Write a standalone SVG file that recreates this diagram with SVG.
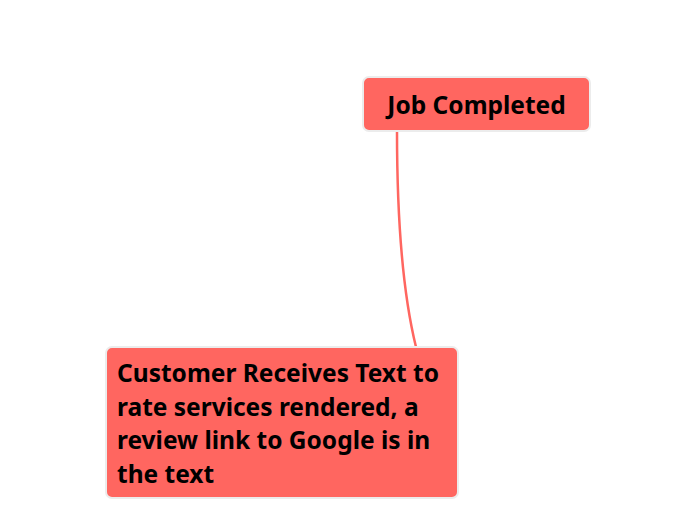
<svg xmlns="http://www.w3.org/2000/svg" width="696" height="520" viewBox="0 0 696 520">
<style>
.node{fill:#ff6660;stroke:#ececec;stroke-width:2}
.lbl{font-family:"Noto Sans","Open Sans","DejaVu Sans",sans-serif;font-weight:bold;font-size:24.5px;fill:#000}
.conn{fill:none;stroke:#ff6660;stroke-width:2.5}
</style>
<rect width="696" height="520" fill="#fff"/>
<g id="connectors">
<path class="conn" d="M397,131 C397,220 402,290 416,347"/>
</g>
<g id="node-job-completed">
<rect class="node" x="363" y="77" width="227" height="54" rx="6"/>
<text class="lbl" x="476.5" y="114" text-anchor="middle">Job Completed</text>
</g>
<g id="node-customer-receives">
<rect class="node" x="106" y="347" width="352" height="151" rx="6"/>
<text class="lbl" x="117" y="382">Customer Receives Text to</text>
<text class="lbl" x="117" y="416">rate services rendered, a</text>
<text class="lbl" x="117" y="449">review link to Google is in</text>
<text class="lbl" x="117" y="483">the text</text>
</g>
</svg>
